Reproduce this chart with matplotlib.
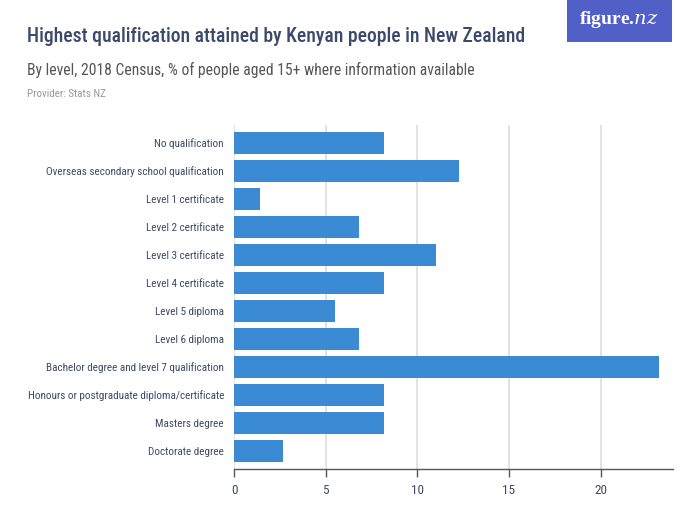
import matplotlib
matplotlib.use("Agg")
import matplotlib.pyplot as plt
from matplotlib.patches import Rectangle
from matplotlib import font_manager

categories = [
    "No qualification",
    "Overseas secondary school qualification",
    "Level 1 certificate",
    "Level 2 certificate",
    "Level 3 certificate",
    "Level 4 certificate",
    "Level 5 diploma",
    "Level 6 diploma",
    "Bachelor degree and level 7 qualification",
    "Honours or postgraduate diploma/certificate",
    "Masters degree",
    "Doctorate degree",
]
values = [8.2, 12.3, 1.4, 6.8, 11.0, 8.2, 5.5, 6.8, 23.2, 8.2, 8.2, 2.7]
xticks = [0, 5, 10, 15, 20]

names = {f.name for f in font_manager.fontManager.ttflist}
main = "Lato"
for cand in ["Roboto Condensed", "Liberation Sans Narrow", "Open Sans Condensed", "Lato"]:
    if cand in names:
        main = cand
        break
FONT = [main, "DejaVu Sans"]
plt.rcParams["font.family"] = FONT
plt.rcParams["mathtext.fontset"] = "dejavuserif"

fig = plt.figure(figsize=(7, 5.25), dpi=100)
renderer = fig.canvas.get_renderer()
ax = fig.add_axes([234/700, 1-469/525, (673-234)/700, (469-125)/525])


def fit(t, width_px):
    w = t.get_window_extent(renderer).width
    t.set_fontsize(t.get_fontsize() * width_px / w)
    return t


ypos = list(range(len(categories)))
ax.barh(ypos, values, height=0.78, color="#3a8bd4", zorder=3)
ax.set_ylim(len(categories) - 1 + 0.64, -0.64)
ax.set_xlim(0, 23.95)
ax.set_yticks(ypos)
labels = ax.set_yticklabels(categories, fontsize=9, color="#3d4a66")
longest = max(labels, key=lambda t: t.get_window_extent(renderer).width)
w = longest.get_window_extent(renderer).width
fs = min(9 * 197 / w, 9.5)
for t in labels:
    t.set_fontsize(fs)
ax.set_xticks(xticks)
ax.set_xticklabels([str(t) for t in xticks], fontsize=9.5, color="#3d4a66")
ax.tick_params(axis="y", length=0, pad=7.2)
ax.tick_params(axis="x", length=6, width=1, color="#555555", direction="out", pad=5)
ax.grid(axis="x", color="#dddddd", linewidth=1.2, zorder=0)
for s in ["top", "right", "left"]:
    ax.spines[s].set_visible(False)
ax.spines["bottom"].set_color("#555555")
ax.spines["bottom"].set_linewidth(1)

t1 = fig.text(27/700, 1-37/525, "Highest qualification attained by Kenyan people in New Zealand",
              fontsize=15, color="#3b4a6b", va="center", ha="left", weight=500)
fit(t1, 498)
t2 = fig.text(27/700, 1-70/525, "By level, 2018 Census, % of people aged 15+ where information available",
              fontsize=11.5, color="#555555", va="center", ha="left")
fit(t2, 446)
t3 = fig.text(27/700, 1-94/525, "Provider: Stats NZ", fontsize=8, color="#999999", va="center", ha="left")
fit(t3, 79)

# logo
fig.patches.append(Rectangle((567/700, 1-42/525), 105/700, 42/525, transform=fig.transFigure,
                             facecolor="#5060c6", edgecolor="none", zorder=5))
fig.text(619/700, 1-19/525, r"figure.$\mathit{nz}$", fontsize=14, color="white", ha="center", va="center",
         family=["Liberation Serif", "DejaVu Serif"], weight="bold", zorder=6)

fig.savefig("out.png", dpi=100)
